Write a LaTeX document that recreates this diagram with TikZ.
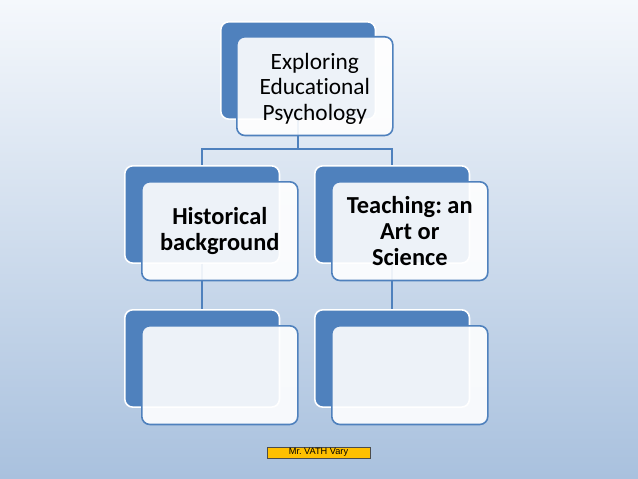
\documentclass[tikz,border=0pt]{standalone}
\usepackage{fontspec}
\setmainfont[Ligatures=NoCommon]{Carlito}
\newfontfamily\arialfont{Liberation Sans}
\frenchspacing
\definecolor{boxblue}{HTML}{4F81BD}
\definecolor{bgtop}{HTML}{F5F8FC}
\definecolor{bgbot}{HTML}{A9C1DE}
\definecolor{labelorange}{HTML}{FFC000}
\tikzset{
  backbox/.style={draw=white, line width=1.2pt, fill=boxblue, rounded corners=6pt,
    anchor=north west, minimum width=116pt, minimum height=73pt, inner sep=0pt},
  frontbox/.style={draw=boxblue, line width=1.2pt, fill=white, fill opacity=0.9, text opacity=1,
    rounded corners=6pt, anchor=north west, minimum width=117pt, minimum height=74pt,
    inner sep=0pt, align=center},
  toptext/.style={font=\fontsize{17.5pt}{19pt}\selectfont},
  midtext/.style={font=\fontsize{18.3pt}{19.5pt}\selectfont\bfseries},
  conn/.style={draw=boxblue, line width=1.1pt},
  namelabel/.style={draw=black!70, line width=0.5pt, fill=labelorange, inner sep=0pt,
    minimum width=77pt, minimum height=8.3pt, font=\arialfont\fontsize{6.9pt}{7pt}\selectfont}
}
\begin{document}
\begin{tikzpicture}[x=0.75pt,y=-0.75pt]
\shade[top color=bgtop, bottom color=bgbot] (0,0) rectangle (638,478);
\useasboundingbox (0,0) rectangle (638,478);
% back boxes
\node[backbox] (tb) at (220,21) {};
\node[backbox] (lb) at (124,165) {};
\node[backbox] (rb) at (314,165) {};
\node[backbox] (llb) at (124,309) {};
\node[backbox] (rrb) at (314,309) {};
% connectors
\coordinate (bar) at (0,149);
\draw[conn] (tb.south) -- (tb.south |- bar) -| (lb.north);
\draw[conn] (tb.south |- bar) -| (rb.north);
\draw[conn] (lb.south) -- (llb.north);
\draw[conn] (rb.south) -- (rrb.north);
% front boxes
\node[frontbox, toptext] (tf) at (236,36) {\rule{0pt}{16pt}Exploring\\Educational\\Psychology};
\node[frontbox, midtext] (lf) at (141,181) {Historical\\background};
\node[frontbox, midtext] (rf) at (331,181) {Teaching: an\\Art or\\Science};
\node[frontbox] (llf) at (141,325) {};
\node[frontbox] (rrf) at (331,325) {};
% label
\node[namelabel] (lab) at (318.5,452.5) {Mr. VATH Vary};
\end{tikzpicture}
\end{document}
